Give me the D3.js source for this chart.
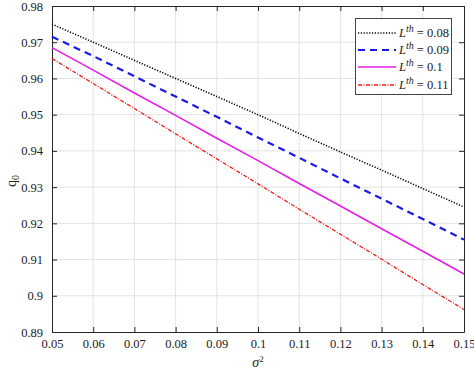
<!DOCTYPE html>
<html><head><meta charset="utf-8">
<script src="https://cdn.jsdelivr.net/npm/d3@7"></script>
<style>body{margin:0;background:#fff;} svg{display:block;}</style>
</head><body>
<svg id="c" width="474" height="369"></svg>
<script>
const xValues = [0.05,0.06,0.07,0.08,0.09,0.10,0.11,0.12,0.13,0.14,0.15];
const seriesL008 = [0.9750,0.9700,0.9650,0.9600,0.9550,0.9500,0.9448,0.9397,0.9347,0.9296,0.9245];
const seriesL009 = [0.9715,0.9662,0.9606,0.9550,0.9494,0.9437,0.9381,0.9324,0.9268,0.9212,0.9155];
const seriesL010 = [0.9685,0.9623,0.9560,0.9498,0.9435,0.9373,0.9310,0.9248,0.9185,0.9123,0.9060];
const seriesL011 = [0.9655,0.9586,0.9517,0.9447,0.9378,0.9309,0.9239,0.9170,0.9101,0.9031,0.8962];
const legendValues = ["0.08","0.09","0.1","0.11"];
const xTicks = [0.05,0.06,0.07,0.08,0.09,0.10,0.11,0.12,0.13,0.14,0.15];
const yTicks = [0.89,0.90,0.91,0.92,0.93,0.94,0.95,0.96,0.97,0.98];

const svg = d3.select("#c");
const L=52,R=464,T=6,B=332;
const x = d3.scaleLinear().domain([0.05,0.15]).range([L,R]);
const y = d3.scaleLinear().domain([0.89,0.98]).range([B,T]);
const font = "'Liberation Serif','Times New Roman',serif";
const axisCol = "#262626";

// grid
svg.append("g").selectAll("line").data(xTicks.slice(1,-1)).join("line")
  .attr("x1",d=>x(d)).attr("x2",d=>x(d)).attr("y1",T).attr("y2",B)
  .attr("stroke","#e3e3e3").attr("stroke-width",1);
svg.append("g").selectAll("line").data(yTicks.slice(1,-1)).join("line")
  .attr("y1",d=>y(d)).attr("y2",d=>y(d)).attr("x1",L).attr("x2",R)
  .attr("stroke","#e3e3e3").attr("stroke-width",1);

// axes
const fmt = d=>{let s=d3.format(".2f")(d); if(s.endsWith("0")) s=s.slice(0,-1); return s;};
const gB = svg.append("g").attr("transform",`translate(0,${B})`)
  .call(d3.axisBottom(x).tickValues(xTicks).tickSizeInner(-5).tickSizeOuter(0).tickPadding(7).tickFormat(fmt));
const gT = svg.append("g").attr("transform",`translate(0,${T})`)
  .call(d3.axisTop(x).tickValues(xTicks).tickSizeInner(-5).tickSizeOuter(0).tickFormat(""));
const gL = svg.append("g").attr("transform",`translate(${L},0)`)
  .call(d3.axisLeft(y).tickValues(yTicks).tickSizeInner(-5).tickSizeOuter(0).tickPadding(9).tickFormat(fmt));
const gR = svg.append("g").attr("transform",`translate(${R},0)`)
  .call(d3.axisRight(y).tickValues(yTicks).tickSizeInner(-5).tickSizeOuter(0).tickFormat(""));
[gB,gT,gL,gR].forEach(g=>{
  g.select(".domain").attr("stroke",axisCol).attr("stroke-width",1);
  g.selectAll(".tick line").attr("stroke",axisCol);
  g.selectAll("text").attr("font-family",font).attr("font-size",12.5).attr("fill","#222");
});

// lines
const series = [
  {v:seriesL008,c:"#000000",w:1.6,d:"1.2,1.6"},
  {v:seriesL009,c:"#1a1ae6",w:2.2,d:"7,5"},
  {v:seriesL010,c:"#e61ee6",w:1.6,d:null},
  {v:seriesL011,c:"#ee1c1c",w:1.3,d:"4,1.5,1,1.5"}
];
const line = d3.line().x((d,i)=>x(xValues[i])).y(d=>y(d));
series.forEach(s=>{
  svg.append("path").datum(s.v).attr("d",line).attr("fill","none")
    .attr("stroke",s.c).attr("stroke-width",s.w).attr("stroke-dasharray",s.d);
});

// legend
const lg = svg.append("g");
lg.append("rect").attr("x",355.5).attr("y",18.5).attr("width",96).attr("height",76)
  .attr("fill","#fff").attr("stroke","#444").attr("stroke-width",1);
const rows=[33,50,67,85];
series.forEach((s,i)=>{
  lg.append("line").attr("x1",358).attr("x2",396).attr("y1",rows[i]).attr("y2",rows[i])
    .attr("stroke",s.c).attr("stroke-width",s.w).attr("stroke-dasharray",s.d);
  const t = lg.append("text").attr("x",399).attr("y",rows[i]+4).attr("font-family",font).attr("font-size",12.5).attr("fill","#222");
  t.append("tspan").attr("font-style","italic").text("L");
  t.append("tspan").attr("font-style","italic").attr("font-size",10).attr("dy",-5).text("th");
  t.append("tspan").attr("dy",5).text(" = "+legendValues[i]);
});

// axis labels
svg.append("text").attr("transform","translate(16,181) rotate(-90)").attr("text-anchor","middle")
  .attr("font-family",font).attr("font-size",14).attr("fill","#222")
  .call(t=>{t.append("tspan").text("q");t.append("tspan").attr("font-size",10).attr("dy",3).text("0");});
svg.append("text").attr("x",258).attr("y",367).attr("text-anchor","middle")
  .attr("font-family",font).attr("font-size",14).attr("fill","#222")
  .call(t=>{t.append("tspan").attr("font-style","italic").text("σ");t.append("tspan").attr("font-size",9).attr("dy",-5).text("2");});
</script>
</body></html>
